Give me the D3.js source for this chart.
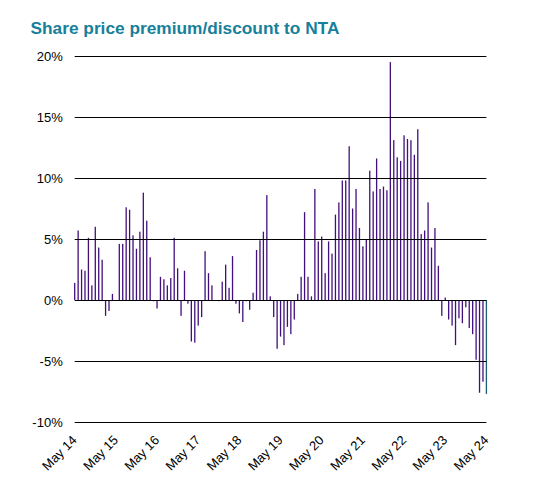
<!DOCTYPE html>
<html>
<head>
<meta charset="utf-8">
<script src="https://cdn.jsdelivr.net/npm/d3@7"></script>
<style>
  body { margin: 0; background: #fff; }
  svg { display: block; font-family: "Liberation Sans", Arial, sans-serif; }
</style>
</head>
<body>
<div id="chart"></div>
<script>
// monthly premium(+)/discount(-) to NTA, May 2014 .. May 2024 (%)
const premium = [
  1.4, 5.7, 2.5, 2.4, 5.1, 1.2, 6.0, 4.3, 3.3, -1.3, -0.9, 0.5,
  0.0, 4.6, 4.6, 7.6, 7.4, 5.3, 4.2, 5.6, 8.8, 6.5, 3.5, -0.1,
  -0.7, 1.9, 1.7, 1.2, 1.8, 5.1, 2.6, -1.3, 2.4, -0.3, -3.4, -3.5,
  -2.1, -1.4, 4.0, 2.2, 1.2, 0.0, -0.1, 1.5, 2.9, 1.0, 3.6, -0.3,
  -1.1, -1.8, -0.1, -0.8, 0.6, 4.1, 4.9, 5.6, 8.6, 0.3, -1.4, -4.0,
  -3.0, -3.7, -2.2, -2.8, -1.6, 0.5, 1.9, 7.2, 1.9, 0.3, 9.1, 4.8,
  5.2, 2.2, 4.8, 3.8, 7.0, 8.0, 9.8, 9.8, 12.6, 7.5, 9.1, 5.9,
  4.4, 5.0, 10.6, 8.9, 11.6, 9.1, 9.3, 9.0, 19.5, 13.1, 11.7, 11.4,
  13.5, 13.2, 13.1, 11.9, 14.0, 5.4, 5.7, 8.0, 4.3, 5.9, 2.8, -1.3,
  0.2, -1.6, -2.1, -3.7, -1.5, -1.9, -0.6, -2.3, -2.8, -4.9, -7.6, -6.7,
  -7.7
];
const tickLabels = ['May 14', 'May 15', 'May 16', 'May 17', 'May 18', 'May 19',
  'May 20', 'May 21', 'May 22', 'May 23', 'May 24'];
const yTicks = [-10, -5, 0, 5, 10, 15, 20];

const width = 540, height = 497;
const svg = d3.select('#chart').append('svg')
  .attr('width', width)
  .attr('height', height);

svg.append('text')
  .attr('x', 30.5)
  .attr('y', 33.5)
  .attr('font-size', 17.3)
  .attr('font-weight', 'bold')
  .attr('fill', '#17809b')
  .text('Share price premium/discount to NTA');

const x = d3.scaleLinear()
  .domain([0, premium.length - 1])
  .range([74.7, 486.4]);
const y = d3.scaleLinear()
  .domain([-10, 20])
  .range([422, 56]);

// bars
svg.append('g')
  .selectAll('rect')
  .data(premium)
  .enter()
  .append('rect')
  .attr('x', (d, i) => x(i) - 0.65)
  .attr('width', 1.3)
  .attr('y', d => y(Math.max(0, d)))
  .attr('height', d => Math.abs(y(d) - y(0)))
  .attr('fill', (d, i) => i === premium.length - 1 ? '#1b5d74' : '#42107c');

// gridlines + y labels
const yAxis = d3.axisLeft(y)
  .tickValues(yTicks)
  .tickSize(-(x.range()[1] - x.range()[0]))
  .tickPadding(12)
  .tickFormat(d => d + '%');

const gy = svg.append('g')
  .attr('transform', `translate(${x.range()[0]},0)`)
  .call(yAxis);
gy.select('.domain').remove();
gy.selectAll('line').attr('stroke', '#000').attr('stroke-width', 1);
gy.selectAll('text')
  .attr('font-size', 13)
  .attr('font-family', '"Liberation Sans", Arial, sans-serif')
  .attr('fill', '#000');

// x labels, one per year
const xTickIdx = tickLabels.map((t, k) => k * 12);
const xAxis = d3.axisBottom(x)
  .tickValues(xTickIdx)
  .tickSize(0)
  .tickFormat((d, k) => tickLabels[k]);

const gx = svg.append('g')
  .attr('transform', `translate(0,${y(-10)})`)
  .call(xAxis);
gx.select('.domain').remove();
gx.selectAll('text')
  .attr('font-size', 13)
  .attr('font-family', '"Liberation Sans", Arial, sans-serif')
  .attr('fill', '#000')
  .attr('text-anchor', 'end')
  .attr('dy', null)
  .attr('y', 0)
  .attr('transform', 'translate(2.5,19) rotate(-45)');
</script>
</body>
</html>
